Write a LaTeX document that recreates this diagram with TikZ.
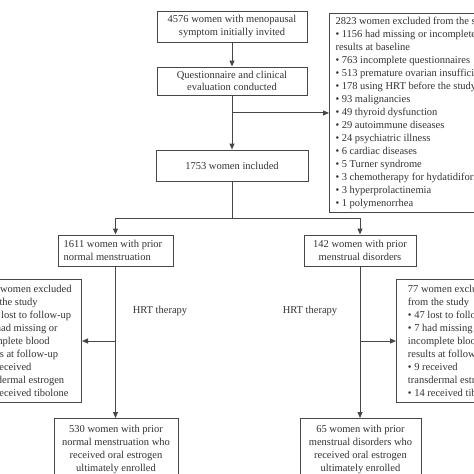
\documentclass[tikz,border=0pt]{standalone}
\usepackage{fontspec}
\setmainfont{Liberation Serif}
\usetikzlibrary{arrows.meta}
\definecolor{linec}{HTML}{474747}
\definecolor{textc}{HTML}{333333}
\tikzset{
  box/.style={draw=linec, line width=1pt, fill=white, text=textc, inner sep=0pt,
    font=\fontsize{10.5}{12.7}\selectfont, align=center},
  lst/.style={box, font=\fontsize{10.5}{12.95}\selectfont, align=left, anchor=north west,
    inner xsep=6pt, inner ysep=4pt},
  conn/.style={draw=linec, line width=1pt},
  arr/.style={conn, -{Triangle[length=6pt,width=5pt]}},
  lbl/.style={text=textc, font=\fontsize{10.5}{12}\selectfont}
}
\begin{document}
\begin{tikzpicture}[x=1pt,y=-1pt]
  \useasboundingbox (0,0) rectangle (474,474);
  % main column
  \node[box, minimum width=150, minimum height=31] (invited) at (232,26.5) {4576 women with menopausal\\symptom initially invited};
  \node[box, minimum width=150, minimum height=28] (quest) at (232,81) {Questionnaire and clinical\\evaluation conducted};
  \node[box, minimum width=152, minimum height=31] (incl) at (232,165.5) {1753 women included};
  \node[lst, minimum width=180, minimum height=198] (excl) at (329,13) {2823 women excluded from the study\\
    • 1156 had missing or incomplete blood\\results at baseline\\
    • 763 incomplete questionnaires\\
    • 513 premature ovarian insufficiency\\
    • 178 using HRT before the study\\
    • 93 malignancies\\
    • 49 thyroid dysfunction\\
    • 29 autoimmune diseases\\
    • 24 psychiatric illness\\
    • 6 cardiac diseases\\
    • 5 Turner syndrome\\
    • 3 chemotherapy for hydatidiform mole\\
    • 3 hyperprolactinemia\\
    • 1 polymenorrhea};
  % two groups
  \node[box, minimum width=115, minimum height=31] (normal) at (115.5,250.5) {};
  \node[align=left, anchor=west, text=textc, inner sep=0pt, font=\fontsize{10.5}{12.7}\selectfont] (normaltxt) at ([xshift=6]normal.west) {1611 women with prior\\normal menstruation};
  \node[box, minimum width=112, minimum height=31] (disorder) at (360,250.5) {142 women with prior\\menstrual disorders};
  \node[lst, minimum width=115, minimum height=123] (exclL) at (-34,279) {1081 women excluded\\from the study\\
    • \phantom{000} lost to follow-up\\• \phantom{00} had missing or\\incomplete blood\\results at follow-up\\
    • \phantom{00} received\\transdermal estrogen\\• \phantom{00} received tibolone};
  \node[lst, minimum width=115, minimum height=123] (exclR) at (396,279) {77 women excluded\\from the study\\
    • 47 lost to follow-up\\• 7 had missing or\\incomplete blood\\results at follow-up\\
    • 9 received\\transdermal estrogen\\• 14 received tibolone};
  \node[box, minimum width=124, minimum height=62, anchor=north] (enrolL) at (116,418) {530 women with prior\\normal menstruation who\\received oral estrogen\\ultimately enrolled};
  \node[box, minimum width=121, minimum height=62, anchor=north] (enrolR) at (360.5,418) {65 women with prior\\menstrual disorders who\\received oral estrogen\\ultimately enrolled};
  \node[lbl] (hrtL) at (160,311) {HRT therapy};
  \node[lbl] (hrtR) at (310,311) {HRT therapy};
  % connectors
  \draw[arr] (invited) -- (quest);
  \draw[arr] (quest) -- (incl);
  \coordinate (qx) at (quest.south |- excl.west);
  \draw[arr] (qx) -- (excl.west);
  \coordinate (split) at (232,218);
  \draw[conn] (incl.south) -- (split);
  \draw[arr] (split) -| (normal.north);
  \draw[arr] (split) -| (disorder.north);
  \draw[arr] (normal) -- (normal.south |- enrolL.north);
  \draw[arr] (disorder) -- (disorder.south |- enrolR.north);
  \coordinate (nx) at (normal.south |- exclL.east);
  \draw[arr] (nx) -- (exclL.east);
  \coordinate (dx) at (disorder.south |- exclR.west);
  \draw[arr] (dx) -- (exclR.west);
\end{tikzpicture}
\end{document}
